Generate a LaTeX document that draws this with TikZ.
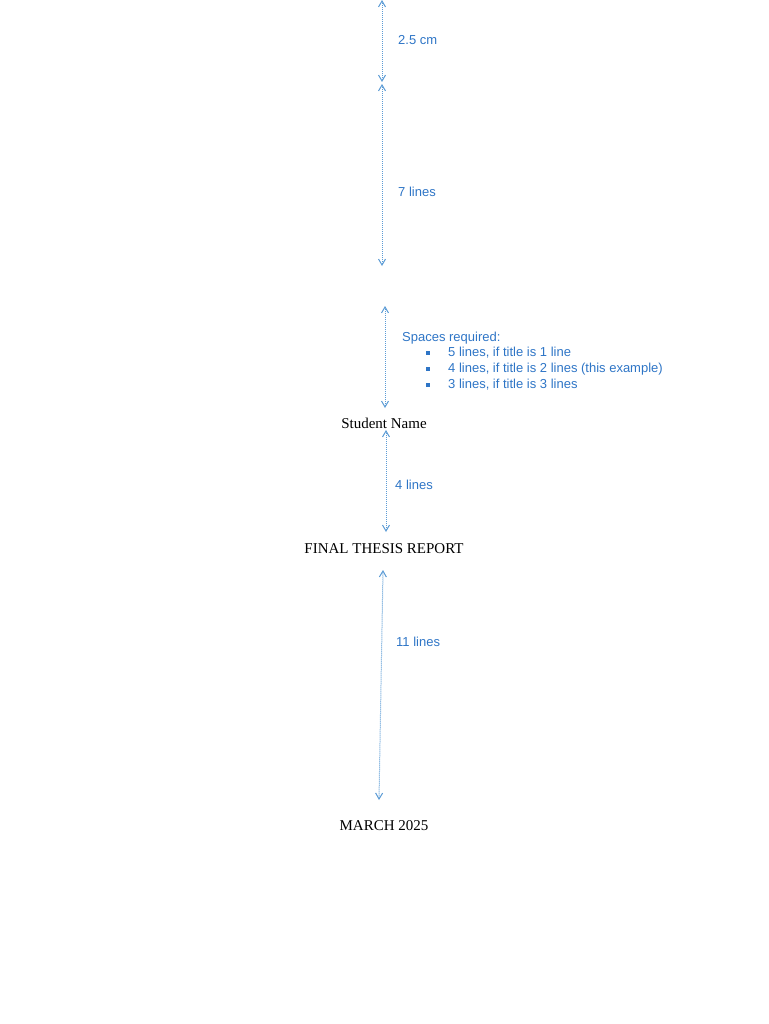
\documentclass[tikz,border=0pt]{standalone}
\usepackage{fontspec}
\setmainfont{Liberation Serif}
\newfontfamily\lsans{Liberation Sans}
\usetikzlibrary{arrows.meta}
\definecolor{arr}{HTML}{5B9BD5}
\definecolor{lbl}{HTML}{2E75C6}
\tikzset{dim/.style={arr,densely dotted,line width=1pt,{Straight Barb[length=6pt,width=7pt,line width=1pt,sep=0pt]}-{Straight Barb[length=6pt,width=7pt]}},
 lab/.style={lbl,font=\lsans\fontsize{13}{16}\selectfont,anchor=west,inner sep=0},
 ttl/.style={font=\fontsize{15}{18}\selectfont,inner sep=0}}
\begin{document}
\begin{tikzpicture}[x=1pt,y=-1pt]
\useasboundingbox (0,0) rectangle (768,1024);
\coordinate (a1) at (382,0); \coordinate (b1) at (382,82);
\coordinate (a2) at (382,84); \coordinate (b2) at (382,266);
\coordinate (a3) at (385,306); \coordinate (b3) at (385,408);
\coordinate (a4) at (386,430); \coordinate (b4) at (386,532);
\coordinate (a5) at (383,570); \coordinate (b5) at (379,800);
\draw[dim] (a1) -- (b1); \draw[dim] (a2) -- (b2); \draw[dim] (a3) -- (b3);
\draw[dim] (a4) -- (b4); \draw[dim] (a5) -- (b5);
\node[lab] (l1) at (398,40) {2.5 cm};
\node[lab] (l2) at (398,192) {7 lines};
\node[lab] (l3) at (402,338) {Spaces required:};
\node[lab] (l3a) at (448,353) {5 lines, if title is 1 line};
\node[lab] (l3b) at (448,369) {4 lines, if title is 2 lines (this example)};
\node[lab] (l3c) at (448,385) {3 lines, if title is 3 lines};
\foreach \yy in {353,369,385}{\fill[lbl] (426,\yy-2) rectangle +(4,4);}
\node[lab] (l4) at (395,485) {4 lines};
\node[lab] (l5) at (396,642) {11 lines};
\node[ttl] (s) at (384,423) {Student Name};
\node[ttl] (t) at (384,549) {FINAL THESIS REPORT};
\node[ttl] (m) at (384,826) {MARCH 2025};
\end{tikzpicture}
\end{document}
